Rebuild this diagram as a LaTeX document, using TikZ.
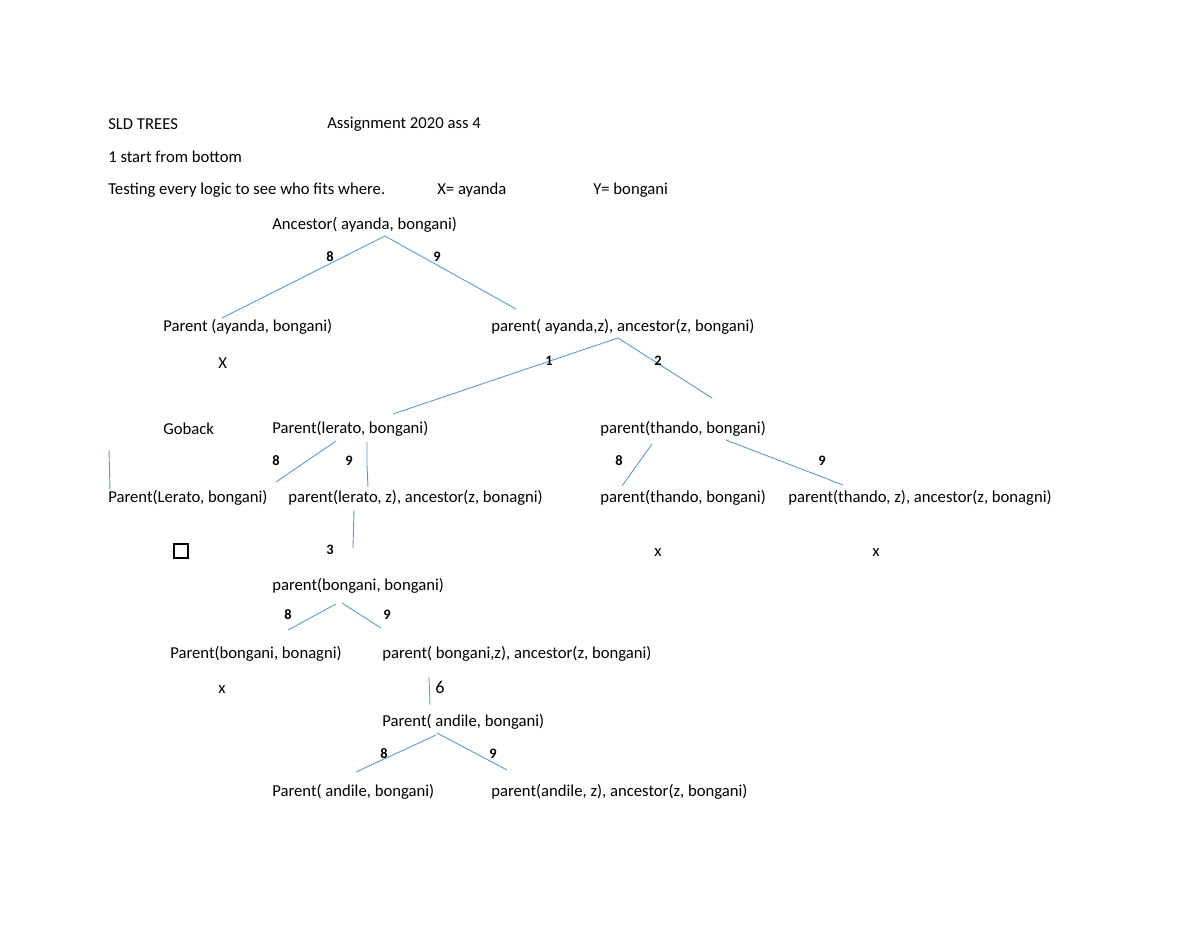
\documentclass[tikz,border=0pt]{standalone}
\usepackage{fontspec}
\setmainfont{Carlito}
\definecolor{wline}{HTML}{5B9BD5}
\begin{document}
\begin{tikzpicture}[x=0.66pt,y=-0.66pt,
  txt/.style={anchor=west,inner sep=0pt,yshift=-1.3pt,font=\fontsize{11}{13}\selectfont},
  num/.style={inner sep=0pt,font=\fontsize{9.5}{11}\selectfont\bfseries},
  edge/.style={draw=wline,line width=0.6pt}]
\useasboundingbox (0,0) rectangle (1200,927);
% header
\node[txt] (t1) at (108,122) {SLD TREES};
\node[txt] (t2) at (327,122) {Assignment 2020 ass 4};
\node[txt] (t3) at (108,155) {1 start from bottom};
\node[txt] (t4) at (108,188) {Testing every logic to see who fits where.};
\node[txt] (t5) at (437,188) {X= ayanda};
\node[txt] (t6) at (593,188) {Y= bongani};
% level 0
\node[txt] (a0) at (272,223) {Ancestor( ayanda, bongani)};
\coordinate (a0p) at (385,236);
\coordinate (a1e) at (222,318);
\coordinate (b1e) at (516,309);
\draw[edge] (a0p) -- (a1e);
\draw[edge] (a0p) -- (b1e);
\node[num] (n8a) at (330,257) {8};
\node[num] (n9a) at (437,257) {9};
% level 1
\node[txt] (a1) at (163,325) {Parent (ayanda, bongani)};
\node[txt] (b1) at (491,325) {parent( ayanda,z), ancestor(z, bongani)};
\node[txt] (x1) at (218,361) {X};
\coordinate (b1p) at (618,338);
\coordinate (c1e) at (393,414);
\coordinate (d1e) at (712,398);
\draw[edge] (b1p) -- (c1e);
\draw[edge] (b1p) -- (d1e);
\node[num] (n1) at (549,361) {1};
\node[num] (n2) at (658,361) {2};
% level 2
\node[txt] (gb) at (163,427) {Goback};
\node[txt] (c1) at (272,427) {Parent(lerato, bongani)};
\node[txt] (d1) at (600,427) {parent(thando, bongani)};
\coordinate (c1p) at (336,441);
\coordinate (c2e) at (276,482);
\draw[edge] (c1p) -- (c2e);
\coordinate (c1q) at (367,442);
\coordinate (c1r) at (367,465);
\coordinate (c3e) at (368,487);
\draw[edge] (c1q) -- (c1r) -- (c3e);
\node[num] (n8b) at (276,461) {8};
\node[num] (n9b) at (349,461) {9};
\coordinate (lv1) at (109,450);
\coordinate (lv2) at (110,490);
\draw[edge] (lv1) -- (lv2);
\coordinate (d1p) at (652,444);
\coordinate (d2e) at (622,486);
\draw[edge] (d1p) -- (d2e);
\coordinate (d1q) at (726,440);
\coordinate (d3e) at (843,485);
\draw[edge] (d1q) -- (d3e);
\node[num] (n8c) at (619,461) {8};
\node[num] (n9c) at (822,461) {9};
% level 3
\node[txt] (c2) at (108,496) {Parent(Lerato, bongani)};
\node[txt] (c3) at (288,496) {parent(lerato, z), ancestor(z, bonagni)};
\node[txt] (d2) at (600,496) {parent(thando, bongani)};
\node[txt] (d3) at (788,496) {parent(thando, z), ancestor(z, bonagni)};
\coordinate (c3p) at (354,510);
\coordinate (c4e) at (353,548);
\draw[edge] (c3p) -- (c4e);
\node[num] (n3) at (330,550) {3};
\node[draw=black,line width=1.5pt,minimum size=9pt,inner sep=0pt] (sq) at (181,551) {};
\node[txt] (x2) at (654,551) {x};
\node[txt] (x3) at (872,551) {x};
% level 4
\node[txt] (e1) at (272,584) {parent(bongani, bongani)};
\coordinate (e1p) at (336,604);
\coordinate (e2e) at (288,630);
\coordinate (e1q) at (342,603);
\coordinate (e3e) at (381,628);
\draw[edge] (e1p) -- (e2e);
\draw[edge] (e1q) -- (e3e);
\node[num] (n8d) at (288,615) {8};
\node[num] (n9d) at (387,615) {9};
% level 5
\node[txt] (e2) at (170,652) {Parent(bongani, bonagni)};
\node[txt] (e3) at (382,652) {parent( bongani,z), ancestor(z, bongani)};
\node[txt] (x4) at (218,688) {x};
\coordinate (e3p) at (429,677);
\coordinate (f1e) at (430,705);
\draw[edge] (e3p) -- (f1e);
\node[inner sep=0pt,font=\fontsize{12}{14}\selectfont] (n6) at (440,687) {6};
% level 6
\node[txt] (f1) at (382,720) {Parent( andile, bongani)};
\coordinate (f1p) at (436,735);
\coordinate (g1e) at (356,772);
\coordinate (f1q) at (437,733);
\coordinate (g2e) at (507,770);
\draw[edge] (f1p) -- (g1e);
\draw[edge] (f1q) -- (g2e);
\node[num] (n8e) at (384,754) {8};
\node[num] (n9e) at (493,754) {9};
% level 7
\node[txt] (g1) at (272,790) {Parent( andile, bongani)};
\node[txt] (g2) at (491,790) {parent(andile, z), ancestor(z, bongani)};
\end{tikzpicture}
\end{document}
